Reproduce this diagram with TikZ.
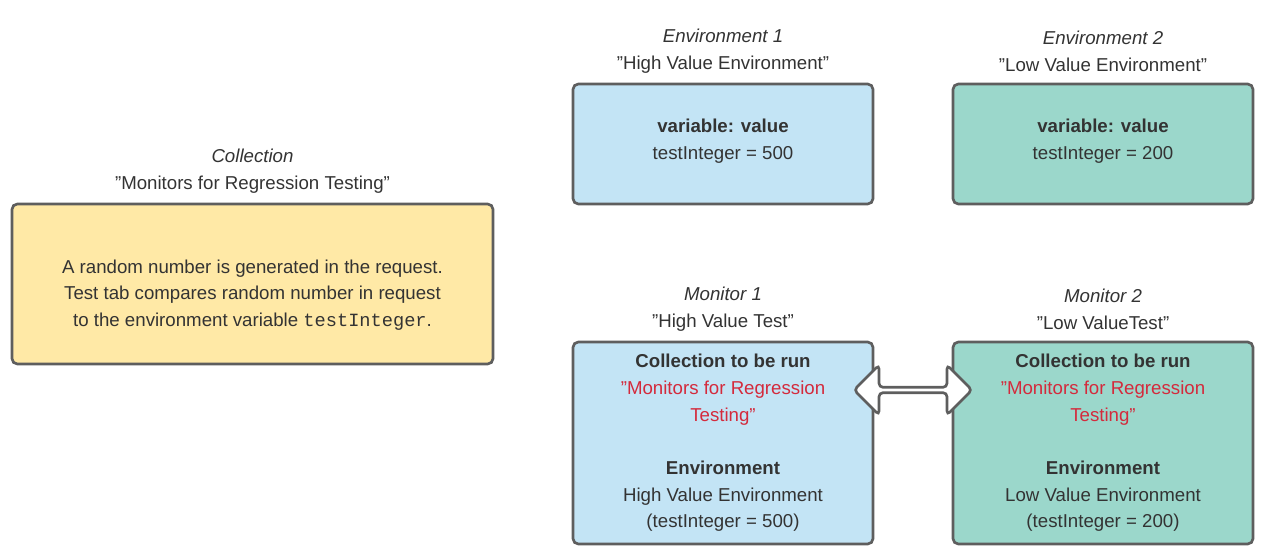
\documentclass[tikz,border=0pt]{standalone}
\usepackage{fontspec}
\setmainfont{Liberation Sans}
\setmonofont{Liberation Mono}
\usetikzlibrary{shapes.arrows}
\definecolor{bd}{HTML}{5E5E5E}
\definecolor{yel}{HTML}{FFE9A6}
\definecolor{blu}{HTML}{C3E4F5}
\definecolor{grn}{HTML}{9BD7CB}
\definecolor{rd}{HTML}{D42A3C}
\definecolor{tx}{HTML}{333333}
\begin{document}
\begin{tikzpicture}[x=0.75pt,y=-0.75pt,
  box/.style={draw=bd,line width=2pt,rounded corners=4pt,inner sep=0pt},
  txt/.style={align=center,font=\fontsize{14}{20}\selectfont,text=tx},
  ttl/.style={align=center,font=\fontsize{14}{20}\selectfont,text=tx}]
\useasboundingbox (0,0) rectangle (1273,559);
\node[box,fill=yel,minimum width=481*0.75pt,minimum height=160*0.75pt] (col) at (252.5,284) {};
\node[box,fill=blu,minimum width=300*0.75pt,minimum height=120*0.75pt] (e1) at (723,144) {};
\node[box,fill=grn,minimum width=300*0.75pt,minimum height=120*0.75pt] (e2) at (1103,144) {};
\node[box,fill=blu,minimum width=300*0.75pt,minimum height=202*0.75pt] (m1) at (723,443) {};
\node[box,fill=grn,minimum width=300*0.75pt,minimum height=202*0.75pt] (m2) at (1103,443) {};
\node[ttl] (tc) at (252.5,171) {\textit{Collection}\\"Monitors for Regression Testing"};
\node[ttl] (t1) at (723,51) {\textit{Environment 1}\\"High Value Environment"};
\node[ttl] (t2) at (1103,51) {\textit{Environment 2}\\"Low Value Environment"};
\node[ttl] (t3) at (723,309) {\textit{Monitor 1}\\"High Value Test"};
\node[ttl] (t4) at (1103,309) {\textit{Monitor 2}\\"Low ValueTest"};
\node[txt] (ct) at (col.center) [yshift=-11*0.75pt] {A random number is generated in the request.\\Test tab compares random number in request\\to the environment variable \texttt{testInteger}.};
\node[txt] (e1t) at (723,141) {\textbf{variable: value}\\testInteger = 500};
\node[txt] (e2t) at (1103,141) {\textbf{variable: value}\\testInteger = 200};
\node[txt] (m1t) at (723,443) {\textbf{Collection to be run}\\\textcolor{rd}{"Monitors for Regression}\\\textcolor{rd}{Testing"}\\[20pt]\textbf{Environment}\\High Value Environment\\(testInteger = 500)};
\node[txt] (m2t) at (1103,443) {\textbf{Collection to be run}\\\textcolor{rd}{"Monitors for Regression}\\\textcolor{rd}{Testing"}\\[20pt]\textbf{Environment}\\Low Value Environment\\(testInteger = 200)};
\node[double arrow,draw=bd,fill=white,line width=2pt,minimum width=50*0.75pt,minimum height=118*0.75pt,double arrow head extend=11*0.75pt,double arrow head indent=0pt,inner sep=0pt,rounded corners=3pt] (da) at (913,390) {};
\end{tikzpicture}
\end{document}
